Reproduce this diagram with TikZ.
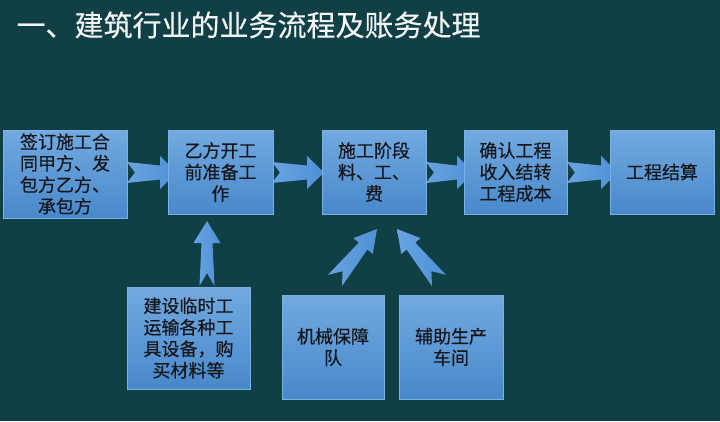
\documentclass[tikz,border=0pt]{standalone}
\usepackage{fontspec}
\setmainfont{Noto Sans CJK SC}
\newfontfamily\titlefont{Noto Sans CJK SC}[FakeBold=0.3]
\newfontfamily\boxfont{Noto Sans CJK SC}[FakeBold=0.4]
\usetikzlibrary{calc}

\definecolor{bg}{RGB}{17,63,70}
\definecolor{boxtop}{RGB}{114,170,224}
\definecolor{boxbot}{RGB}{72,136,202}
\definecolor{boxedge}{RGB}{122,178,230}
\definecolor{arrA}{RGB}{104,164,224}
\definecolor{arrB}{RGB}{78,144,214}
\definecolor{ink}{RGB}{22,22,26}
\definecolor{titleink}{RGB}{244,246,246}

% notched block arrow: tail, tip, tail half-width, neck half-width,
% head half-width, head length, notch depth
\newcommand\blockarrow[7]{%
  \coordinate (ba-neck) at ($(#2)!#6!(#1)$);
  \shade[arrowshade]
    ($(#1)!#3!90:(#2)$) -- ($(ba-neck)!#4!-90:(#1)$) -- ($(ba-neck)!#5!-90:(#1)$)
    -- (#2)
    -- ($(ba-neck)!#5!90:(#1)$) -- ($(ba-neck)!#4!90:(#1)$) -- ($(#1)!#3!-90:(#2)$)
    -- ($(#1)!#7!(#2)$) -- cycle;
}

\begin{document}
\begin{tikzpicture}[x=1pt,y=-1pt,
  arrowshade/.style={left color=arrA,right color=arrB},
  stepbox/.style={rectangle,inner sep=0pt,top color=boxtop,bottom color=boxbot,
    draw=boxedge,line width=0.8pt,align=center,text=ink,
    font=\boxfont\fontsize{18}{21.5}\selectfont},
]
\fill[bg] (0,0) rectangle (720,421);
\useasboundingbox (0,0) rectangle (720,421);

\node[anchor=west,text=titleink,font=\titlefont\fontsize{29}{34}\selectfont] (title) at (13,25)
  {一、建筑行业的业务流程及账务处理};

% arrow ends
\coordinate (t1) at (127,172.5);  \coordinate (p1) at (177,172.5);
\coordinate (t2) at (272,172.5);  \coordinate (p2) at (324,172.5);
\coordinate (t3) at (426,172.5);  \coordinate (p3) at (474,172.5);
\coordinate (t4) at (567,172.5);  \coordinate (p4) at (618,172.5);
\coordinate (tv) at (207,286);    \coordinate (pv) at (207,221);
\coordinate (tl) at (335,280.5);  \coordinate (pl) at (377,229);
\coordinate (tr) at (439,280.5);  \coordinate (pr) at (397,229);

% arrows sit beneath the boxes
\blockarrow{t1}{p1}{10.5pt}{7pt}{16.5pt}{17pt}{8pt}
\blockarrow{t2}{p2}{10.5pt}{7pt}{16.5pt}{17pt}{8pt}
\blockarrow{t3}{p3}{10.5pt}{7pt}{16.5pt}{17pt}{8pt}
\blockarrow{t4}{p4}{10.5pt}{7pt}{16.5pt}{17pt}{8pt}
\blockarrow{tv}{pv}{7.5pt}{5.5pt}{13.5pt}{22pt}{13pt}
\blockarrow{tl}{pl}{9pt}{5.5pt}{12.5pt}{22pt}{12pt}
\blockarrow{tr}{pr}{9pt}{5.5pt}{12.5pt}{22pt}{12pt}

% main flow
\node[stepbox,minimum width=124pt,minimum height=88pt] (b1) at (65,174)
  {签订施工合\\同甲方、发\\包方乙方、\\承包方};
\node[stepbox,minimum width=105pt,minimum height=84pt] (b2) at (220.5,172)
  {乙方开工\\前准备工\\作};
\node[stepbox,minimum width=104pt,minimum height=84pt] (b3) at (374,172)
  {施工阶段\\料、工、\\费};
\node[stepbox,minimum width=103pt,minimum height=84pt] (b4) at (515.5,172)
  {确认工程\\收入结转\\工程成本};
\node[stepbox,minimum width=104pt,minimum height=84pt] (b5) at (662,172)
  {工程结算};

% supporting boxes
\node[stepbox,minimum width=123pt,minimum height=102pt] (c1) at (188.5,338)
  {建设临时工\\运输各种工\\具设备，购\\买材料等};
\node[stepbox,minimum width=102pt,minimum height=104pt] (c2) at (333,347)
  {机械保障\\队};
\node[stepbox,minimum width=104pt,minimum height=104pt] (c3) at (451,347)
  {辅助生产\\车间};
\end{tikzpicture}
\end{document}
